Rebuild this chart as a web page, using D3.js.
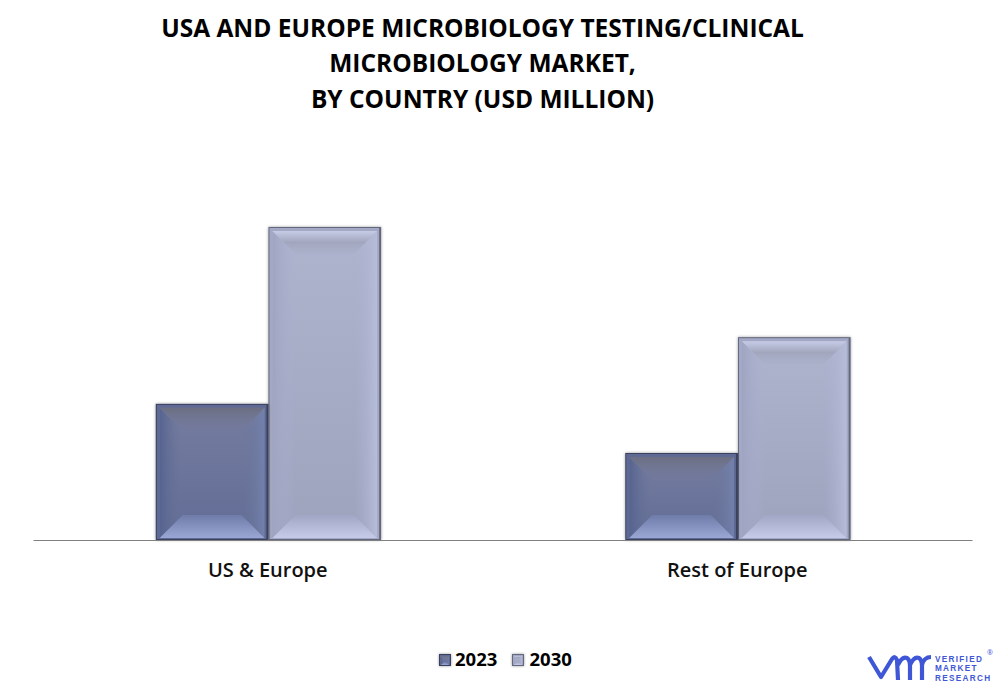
<!DOCTYPE html>
<html><head><meta charset="utf-8">
<script src="https://cdn.jsdelivr.net/npm/d3@7"></script>
<style>html,body{margin:0;padding:0;background:#fff}svg{display:block}text{font-family:"Open Sans",sans-serif;font-weight:700;fill:#000}</style>
</head><body><svg id="c" width="1002" height="692"></svg>
<script>
const categories=["US & Europe","Rest of Europe"];
const seriesNames=["2023","2030"];
const values2023=[435,278];
const values2030=[1000,648];
const titleLines=["USA AND EUROPE MICROBIOLOGY TESTING/CLINICAL","MICROBIOLOGY MARKET,","BY COUNTRY (USD MILLION)"];

const palettes={
 "2023":{edge:"#3a415e",edgeL:"#5f6a94",top:[["#6c6f82",1],["#737a9c",.3]],bottom:[["#6f7ca9",1],["#9aa7d4",1]],left:[["#566390",1],["#6a7599",0]],right:[["#6a7599",0],["#7280ab",1]],c:["#757c9f","#626d96"]},
 "2030":{edge:"#63677e",edgeL:"#a3a9c4",top:[["#c6cce6",1],["#a2a6bd",1],["#a8adc6",.25]],bottom:[["#a0a6c4",1],["#c5cbe8",1]],left:[["#9fa4c2",1],["#acb2cf",0]],right:[["#acb2cf",0],["#b6bdd8",1]],c:["#aeb3ce","#9da2bd"]}
};
const svg=d3.select("#c"),defs=svg.append("defs");
const f=defs.append("filter").attr("id","sh").attr("x","-10%").attr("y","-10%").attr("width","120%").attr("height","120%");
f.append("feDropShadow").attr("dx",0).attr("dy",0).attr("stdDeviation",1.6).attr("flood-color","#000").attr("flood-opacity",.38);
function grad(id,cols,vert){const g=defs.append("linearGradient").attr("id",id).attr("x1",0).attr("y1",0).attr("x2",vert?0:1).attr("y2",vert?1:0);
 cols.forEach((c,i)=>{const a=Array.isArray(c)?c:[c,1];g.append("stop").attr("offset",i/(cols.length-1)).attr("stop-color",a[0]).attr("stop-opacity",a[1]);});}
seriesNames.forEach(s=>{const p=palettes[s];
 grad("t"+s,p.top,true);grad("b"+s,p.bottom,true);grad("l"+s,p.left,false);grad("r"+s,p.right,false);grad("m"+s,p.c,true);});

const x0=d3.scaleBand().domain(categories).range([33.7,972.7]).paddingInner(0.52).paddingOuter(0.26);
const x1=d3.scaleBand().domain(seriesNames).range([0,x0.bandwidth()]);
const y=d3.scaleLinear().domain([0,1000]).range([540,227]);

function bevel(g,s,x,top,w,h,b,i){
 const p=palettes[s],pts=a=>a.map(q=>q.join(",")).join(" ");
 const X=x,Y=top,R=x+w,B=top+h,d=Math.min(b,h*.4);
 g.append("rect").attr("x",X).attr("y",Y).attr("width",w).attr("height",h).attr("fill",p.edge).attr("filter","url(#sh)");
 g.append("rect").attr("x",X+1).attr("y",Y+1).attr("width",w-Math.min(3,i)).attr("height",h-2).attr("fill",p.edgeL);
 const ix=X+i,iy=Y+i,iR=R-i,iB=B-Math.max(1,i/2);
 g.append("rect").attr("x",ix).attr("y",iy).attr("width",iR-ix).attr("height",iB-iy).attr("fill",`url(#m${s})`);
 g.append("polygon").attr("points",pts([[ix,iy],[ix+d,iy+d],[ix+d,iB-d],[ix,iB]])).attr("fill",`url(#l${s})`);
 g.append("polygon").attr("points",pts([[iR,iy],[iR-d,iy+d],[iR-d,iB-d],[iR,iB]])).attr("fill",`url(#r${s})`);
 g.append("polygon").attr("points",pts([[ix,iy],[iR,iy],[iR-d,iy+d],[ix+d,iy+d]])).attr("fill",`url(#t${s})`);
 g.append("polygon").attr("points",pts([[ix,iB],[iR,iB],[iR-d,iB-d],[ix+d,iB-d]])).attr("fill",`url(#b${s})`);
}

const rows=categories.map((c,i)=>({c,v:{"2023":values2023[i],"2030":values2030[i]}}));
rows.forEach(r=>seriesNames.slice().reverse().forEach(s=>{
 const g=svg.append("g").attr("class","bar");
 const tp=y(r.v[s]);
 bevel(g,s,x0(r.c)+x1(s),tp,x1.bandwidth(),y(0)-tp,23,4);
}));

const ax=svg.append("g").attr("transform",`translate(-0.7,${y(0)})`).call(d3.axisBottom(x0).tickSize(0).tickPadding(23));
ax.select(".domain").attr("stroke","#808080").attr("stroke-width",1);
ax.selectAll("text").style("font-family",'"Open Sans",sans-serif').style("font-weight",600).style("font-size","20px").style("fill","#111");

svg.append("g").selectAll("text").data(titleLines).join("text")
 .attr("x",482.5).attr("y",(d,i)=>37+i*35.3).attr("text-anchor","middle").style("font-size","24.5px").text(d=>d);

const leg=d3.scaleOrdinal().domain(seriesNames).range([439,512]);
seriesNames.forEach(s=>{
 const g=svg.append("g"),X=leg(s);
 bevel(g,s,X,654,12,12,3,2);
 svg.append("text").attr("x",X+16+(s==="2030"?1.5:0)).attr("y",666).style("font-size","18.5px").text(s);
});

// logo
const L=svg.append("g");
L.append("path").attr("d","M869 657 L881 677 L892 659 Q895 655 897 660 L898 680 M898 665 Q902 656 907 658 Q910 660 910 666 L910 680 M910 665 Q914 656 919 658 Q922 660 922 666 L922 680 M922 665 Q924 657 931 657")
 .attr("fill","none").attr("stroke","#3f57d6").attr("stroke-width",4.2).attr("stroke-linejoin","round");
["VERIFIED","MARKET","RESEARCH"].forEach((t,i)=>L.append("text").attr("x",935).attr("y",661.5+i*9.5).style("font-family","'Liberation Sans',sans-serif").style("font-size","8.2px").style("letter-spacing","1.3px").style("fill","#3f57d6").text(t));
L.append("text").attr("x",987).attr("y",655).style("font-size","7px").style("font-weight",400).style("fill","#3f57d6").text("®");
</script></body></html>
